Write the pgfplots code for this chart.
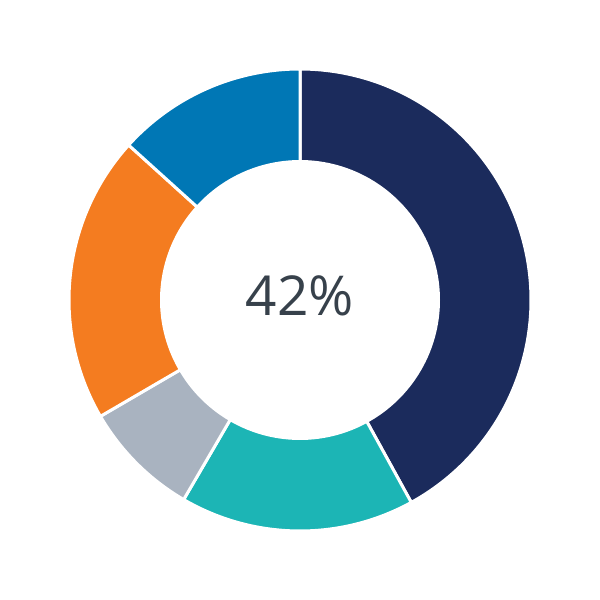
\documentclass[border=0pt]{standalone}
\usepackage{fontspec}
\setmainfont{Open Sans}
\usepackage{pgfplots}
\usepackage{pgfplotstable}
\pgfplotsset{compat=1.18}

\definecolor{cNavy}{HTML}{1B2B5C}
\definecolor{cTeal}{HTML}{1CB5B5}
\definecolor{cGray}{HTML}{A9B3C0}
\definecolor{cOrange}{HTML}{F47C20}
\definecolor{cBlue}{HTML}{0077B5}
\definecolor{cText}{HTML}{37414B}

% shares in percent, clockwise from 12 o'clock
\pgfplotstableread{
slice share
navy 42.0
teal 16.4
gray 8.2
orange 20.1
blue 13.3
}\donutdata

% cumulative angles (pgf convention: start at 90, go clockwise)
\pgfplotstablegetelem{0}{share}\of\donutdata \let\sA\pgfplotsretval
\pgfplotstablegetelem{1}{share}\of\donutdata \let\sB\pgfplotsretval
\pgfplotstablegetelem{2}{share}\of\donutdata \let\sC\pgfplotsretval
\pgfplotstablegetelem{3}{share}\of\donutdata \let\sD\pgfplotsretval
\pgfplotstablegetelem{4}{share}\of\donutdata \let\sE\pgfplotsretval
\pgfmathsetmacro\aA{90}
\pgfmathsetmacro\aB{\aA-3.6*\sA}
\pgfmathsetmacro\aC{\aB-3.6*\sB}
\pgfmathsetmacro\aD{\aC-3.6*\sC}
\pgfmathsetmacro\aE{\aD-3.6*\sD}
\pgfmathsetmacro\aF{\aE-3.6*\sE}

\def\rout{231}
\def\rin{140}

\begin{document}
\begin{tikzpicture}
\begin{axis}[
    width=300pt, height=300pt,
    scale only axis,
    xmin=-300, xmax=300,
    ymin=-300, ymax=300,
    hide axis,
    clip=false,
]
\addplot[fill=cNavy, draw=white, line width=1.5pt, domain=\aA:\aB, samples=120, variable=\t]
    ({\rout*cos(\t)},{\rout*sin(\t)}) -- (axis cs:0,0) -- cycle;
\addplot[fill=cTeal, draw=white, line width=1.5pt, domain=\aB:\aC, samples=60, variable=\t]
    ({\rout*cos(\t)},{\rout*sin(\t)}) -- (axis cs:0,0) -- cycle;
\addplot[fill=cGray, draw=white, line width=1.5pt, domain=\aC:\aD, samples=40, variable=\t]
    ({\rout*cos(\t)},{\rout*sin(\t)}) -- (axis cs:0,0) -- cycle;
\addplot[fill=cOrange, draw=white, line width=1.5pt, domain=\aD:\aE, samples=60, variable=\t]
    ({\rout*cos(\t)},{\rout*sin(\t)}) -- (axis cs:0,0) -- cycle;
\addplot[fill=cBlue, draw=white, line width=1.5pt, domain=\aE:\aF, samples=50, variable=\t]
    ({\rout*cos(\t)},{\rout*sin(\t)}) -- (axis cs:0,0) -- cycle;
% hole
\addplot[fill=white, draw=none, domain=0:360, samples=180, variable=\t]
    ({\rin*cos(\t)},{\rin*sin(\t)}) -- cycle;
\node[text=cText, font=\fontsize{27.5}{32}\selectfont, anchor=center] at (axis cs:0,4) {42\%};
% full 600x600 canvas
\path (rel axis cs:0,0) rectangle (rel axis cs:1,1);
\end{axis}
\end{tikzpicture}
\end{document}
